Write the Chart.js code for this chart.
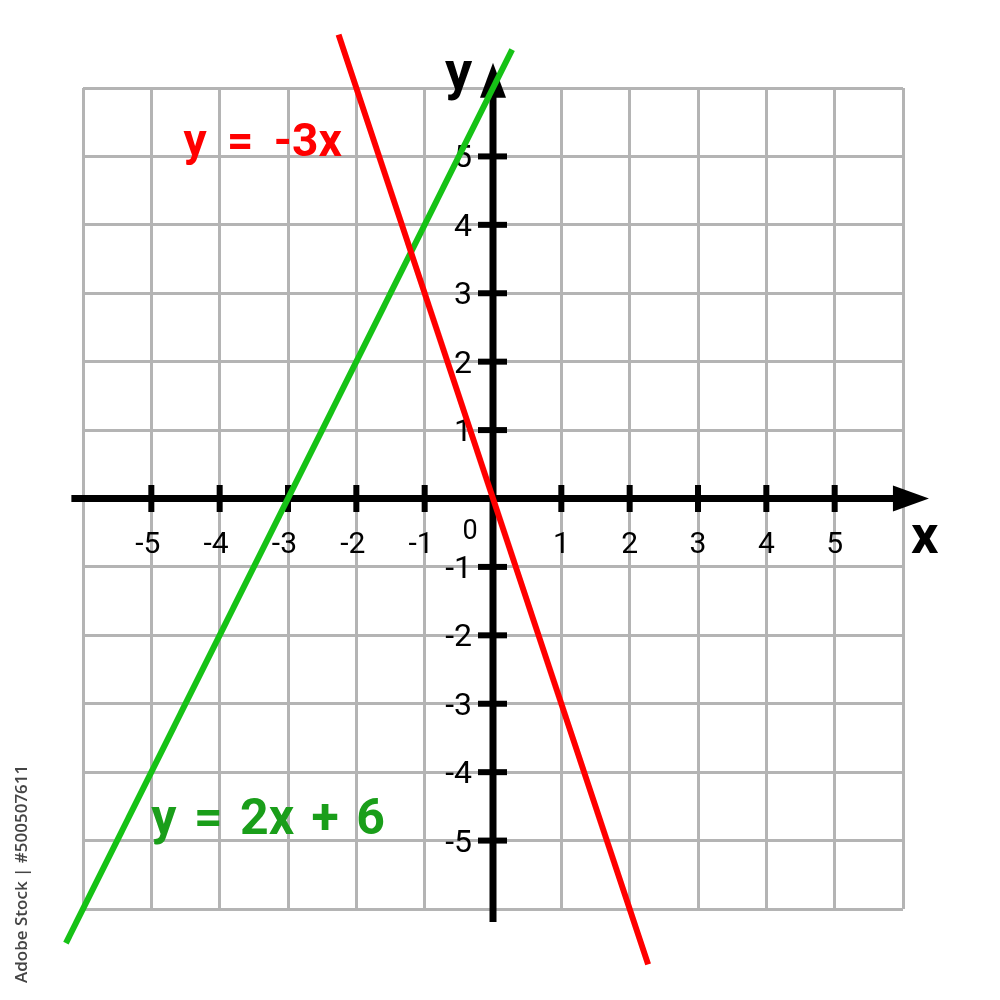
<!DOCTYPE html>
<html>
<head>
<meta charset="utf-8">
<title>y = -3x and y = 2x + 6</title>
<script src="https://cdn.jsdelivr.net/npm/chart.js@4.4.1/dist/chart.umd.min.js"></script>
<style>
  html, body { margin: 0; padding: 0; background: #ffffff; }
  #wrap { width: 1000px; height: 1000px; }
</style>
</head>
<body>
<div id="wrap"><canvas id="graph" width="1000" height="1000"></canvas></div>
<script>
// grid range and tick labels
const gridMin = -6;
const gridMax = 6;
const tickValues = [-5, -4, -3, -2, -1, 1, 2, 3, 4, 5];
const xTickLabels = ["-5", "-4", "-3", "-2", "-1", "1", "2", "3", "4", "5"];
const yTickLabels = ["-5", "-4", "-3", "-2", "-1", "1", "2", "3", "4", "5"];

// line y = -3x (end points)
const redX = [-2.26, 2.27];
const redY = [6.78, -6.81];
// line y = 2x + 6
const greenX = [-6.25, 0.28];
const greenY = [-6.5, 6.56];

// axis extents in data units
const xAxisRange = [-6.17, 6.38];
const yAxisRange = [-6.19, 6.37];

const redLabel = "y = -3x";
const greenLabel = "y = 2x + 6";

const RED = "#ff0000";
const GREEN = "#16c216";
const GREEN_TEXT = "#1a9e1a";

function toPoints(xs, ys) {
  return xs.map((x, i) => ({ x, y: ys[i] }));
}

const axesPlugin = {
  id: "axes",
  beforeDatasetsDraw(chart) {
    const ctx = chart.ctx;
    const xs = chart.scales.x;
    const ys = chart.scales.y;
    const ox = xs.getPixelForValue(0);
    const oy = ys.getPixelForValue(0);

    ctx.save();
    ctx.strokeStyle = "#000";
    ctx.fillStyle = "#000";

    // x axis
    const xl = xs.getPixelForValue(xAxisRange[0]);
    const xr = xs.getPixelForValue(xAxisRange[1]);
    ctx.lineWidth = 7;
    ctx.beginPath();
    ctx.moveTo(xl, oy);
    ctx.lineTo(xr - 30, oy);
    ctx.stroke();
    ctx.beginPath();
    ctx.moveTo(xr, oy);
    ctx.lineTo(xr - 36, oy - 13);
    ctx.lineTo(xr - 36, oy + 13);
    ctx.closePath();
    ctx.fill();

    // y axis
    const yb = ys.getPixelForValue(yAxisRange[0]);
    const yt = ys.getPixelForValue(yAxisRange[1]);
    ctx.beginPath();
    ctx.moveTo(ox, yb);
    ctx.lineTo(ox, yt + 30);
    ctx.stroke();
    ctx.beginPath();
    ctx.moveTo(ox, yt);
    ctx.lineTo(ox - 13, yt + 35);
    ctx.lineTo(ox + 13, yt + 35);
    ctx.closePath();
    ctx.fill();

    // tick marks
    ctx.lineWidth = 6;
    tickValues.forEach(v => {
      const px = xs.getPixelForValue(v);
      ctx.beginPath();
      ctx.moveTo(px, oy - 13.5);
      ctx.lineTo(px, oy + 13.5);
      ctx.stroke();
      const py = ys.getPixelForValue(v);
      ctx.beginPath();
      ctx.moveTo(ox - 15, py);
      ctx.lineTo(ox + 14, py);
      ctx.stroke();
    });

    // tick labels
    ctx.font = "30px Roboto";
    ctx.textBaseline = "alphabetic";
    tickValues.forEach((v, i) => {
      const px = xs.getPixelForValue(v);
      if (v < 0) {
        ctx.textAlign = "right";
        ctx.fillText(xTickLabels[i], px + 9, oy + 54);
      } else {
        ctx.textAlign = "center";
        ctx.fillText(xTickLabels[i], px, oy + 54);
      }
    });
    ctx.font = "32px Roboto";
    ctx.textAlign = "right";
    ctx.textBaseline = "middle";
    tickValues.forEach((v, i) => {
      const py = ys.getPixelForValue(v);
      ctx.fillText(yTickLabels[i], ox - 21, py + 3);
    });
    ctx.font = "27px Roboto";
    ctx.textAlign = "center";
    ctx.textBaseline = "alphabetic";
    ctx.fillText("0", ox - 23, oy + 40);

    // axis names
    ctx.font = "bold 54px Roboto";
    ctx.textAlign = "left";
    ctx.fillText("y", ox - 48, ys.getPixelForValue(6) + 1);
    ctx.fillText("x", xs.getPixelForValue(6) + 8, oy + 54);
    ctx.restore();
  },
  afterDatasetsDraw(chart) {
    const ctx = chart.ctx;
    const xs = chart.scales.x;
    const ys = chart.scales.y;
    ctx.save();
    ctx.textAlign = "left";
    ctx.textBaseline = "alphabetic";
    ctx.font = "bold 46px Roboto";
    ctx.fillStyle = RED;
    ctx.wordSpacing = "9px";
    ctx.fillText(redLabel, xs.getPixelForValue(-4.53), ys.getPixelForValue(5));
    ctx.font = "bold 50px Roboto";
    ctx.fillStyle = GREEN_TEXT;
    ctx.wordSpacing = "5px";
    ctx.fillText(greenLabel, xs.getPixelForValue(-5.0), ys.getPixelForValue(-4.9));
    ctx.wordSpacing = "0px";

    // stock id along the left edge
    ctx.translate(27, 983);
    ctx.rotate(-Math.PI / 2);
    ctx.font = "600 17px 'Open Sans'";
    ctx.fillStyle = "#444";
    ctx.fillText("Adobe Stock | #500507611", 0, 0);
    ctx.restore();
  }
};

new Chart(document.getElementById("graph"), {
  type: "line",
  data: {
    datasets: [
      {
        label: redLabel,
        data: toPoints(redX, redY),
        borderColor: RED,
        borderWidth: 6,
        borderCapStyle: "butt",
        pointRadius: 0,
        fill: false,
        clip: false,
        tension: 0
      },
      {
        label: greenLabel,
        data: toPoints(greenX, greenY),
        borderColor: GREEN,
        borderWidth: 6,
        borderCapStyle: "butt",
        pointRadius: 0,
        fill: false,
        clip: false,
        tension: 0
      }
    ]
  },
  options: {
    responsive: false,
    animation: false,
    layout: { padding: { left: 83, right: 97, top: 88, bottom: 91 } },
    plugins: {
      legend: { display: false },
      tooltip: { enabled: false },
      title: { display: false }
    },
    scales: {
      x: {
        type: "linear",
        min: gridMin,
        max: gridMax,
        ticks: { stepSize: 1, display: false },
        grid: { color: "#b4b4b4", lineWidth: 3, drawTicks: false },
        border: { display: false }
      },
      y: {
        type: "linear",
        min: gridMin,
        max: gridMax,
        ticks: { stepSize: 1, display: false },
        grid: { color: "#b4b4b4", lineWidth: 3, drawTicks: false },
        border: { display: false }
      }
    }
  },
  plugins: [axesPlugin]
});
</script>
</body>
</html>
